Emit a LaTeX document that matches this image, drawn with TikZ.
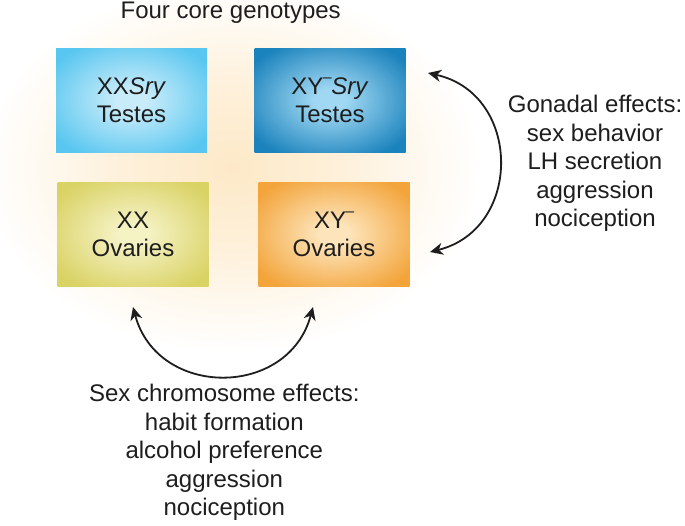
\documentclass[tikz,border=0pt]{standalone}
\usepackage{fontspec}
\setmainfont{Liberation Sans}
\usetikzlibrary{arrows.meta}
\definecolor{tlin}{RGB}{200,236,250}
\definecolor{tlout}{RGB}{88,198,240}
\definecolor{trin}{RGB}{160,216,243}
\definecolor{trout}{RGB}{26,130,188}
\definecolor{blin}{RGB}{245,242,196}
\definecolor{blout}{RGB}{217,210,100}
\definecolor{brin}{RGB}{253,228,186}
\definecolor{brout}{RGB}{243,164,58}
\definecolor{glowc}{RGB}{253,233,200}
\definecolor{txt}{RGB}{30,30,30}
\pgfdeclareradialshading{tlshade}{\pgfpoint{0bp}{0bp}}{color(0bp)=(tlin); color(5bp)=(tlin); color(31bp)=(tlout); color(50bp)=(tlout)}
\pgfdeclareradialshading{trshade}{\pgfpoint{0bp}{0bp}}{color(0bp)=(trin); color(5bp)=(trin); color(31bp)=(trout); color(50bp)=(trout)}
\pgfdeclareradialshading{blshade}{\pgfpoint{0bp}{0bp}}{color(0bp)=(blin); color(5bp)=(blin); color(31bp)=(blout); color(50bp)=(blout)}
\pgfdeclareradialshading{brshade}{\pgfpoint{0bp}{0bp}}{color(0bp)=(brin); color(5bp)=(brin); color(31bp)=(brout); color(50bp)=(brout)}
\pgfdeclareradialshading{glowshade}{\pgfpoint{0bp}{0bp}}{color(0bp)=(glowc); color(10bp)=(glowc!70!white); color(25bp)=(white); color(50bp)=(white)}
\newcommand{\supm}{\kern-0.3pt\raisebox{6pt}{\fontsize{8}{8}\selectfont –}\kern-0.2pt}
\begin{document}
\begin{tikzpicture}[x=0.5pt,y=0.5pt,
  every node/.style={font=\fontsize{12}{14.25}\selectfont, inner sep=0pt, text=txt},
  box/.style={shade, minimum width=75.5pt, minimum height=52pt, align=center, font=\fontsize{12}{14}\selectfont},
  conn/.style={{Stealth[length=6.5pt,width=6pt,inset=2pt]}-{Stealth[length=6.5pt,width=6pt,inset=2pt]}, line width=0.9pt, draw=txt}]
\useasboundingbox (0,0) rectangle (685,-525);
\fill[white] (0,0) rectangle (685,-525);
\shade[shading=glowshade] (232,-168) ellipse [x radius=250, y radius=185];
\node[anchor=base] (title) at (230.7,-18) {Four core genotypes};
\node[box, shading=tlshade] (tl) at (131.5,-100) {XX\textit{Sry}\\Testes};
\node[box, shading=trshade] (tr) at (330,-100) {XY\supm\textit{Sry}\\Testes};
\node[box, shading=blshade] (bl) at (133,-234) {XX\\Ovaries};
\node[box, shading=brshade] (br) at (334,-234) {XY\supm\\Ovaries};
\node[align=center] (gon) at (595,-163.75) {Gonadal effects:\\sex behavior\\LH secretion\\aggression\\nociception};
\node[align=center] (sce) at (224.3,-452.3) {Sex chromosome effects:\\habit formation\\alcohol preference\\aggression\\nociception};
\coordinate (g1) at (428,-73);
\coordinate (g2) at (430,-252);
\draw[conn] (g1) to[out=-12.5,in=14,looseness=1.37] (g2);
\coordinate (b1) at (133,-307);
\coordinate (b2) at (313,-307);
\draw[conn] (b1) to[out=-75,in=255,looseness=1.35] (b2);
\end{tikzpicture}
\end{document}
